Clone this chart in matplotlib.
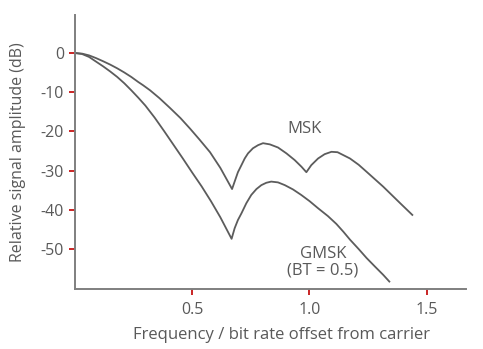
import matplotlib

matplotlib.use("Agg")
import matplotlib.pyplot as plt

plt.rcParams.update({"font.family": ["Open Sans", "DejaVu Sans"], "font.size": 10})

# values (frequency offset / bit rate, dB)
msk_f = [0.0, 0.03, 0.06, 0.09, 0.12, 0.15, 0.18, 0.21, 0.24, 0.27,
         0.29, 0.32, 0.36, 0.405, 0.45, 0.491, 0.53, 0.576, 0.62, 0.670,
         0.681, 0.695, 0.710, 0.724, 0.738, 0.759, 0.781, 0.802, 0.831,
         0.866, 0.902, 0.937, 0.966, 0.987, 1.008, 1.037, 1.065, 1.094,
         1.12, 1.173, 1.21, 1.244, 1.315, 1.387, 1.439]
msk_db = [0.0, -0.15, -0.6, -1.3, -2.1, -2.95, -3.9, -4.95, -6.1, -7.4,
          -8.2, -9.5, -11.5, -14.0, -16.6, -19.3, -22.0, -25.3, -29.3, -34.7,
          -32.8, -30.4, -28.6, -26.9, -25.6, -24.3, -23.5, -23.0, -23.3,
          -24.1, -25.6, -27.3, -29.0, -30.4, -28.6, -26.9, -25.8, -25.2,
          -25.3, -26.9, -28.5, -30.3, -34.1, -38.3, -41.3]

gmsk_f = [0.0, 0.03, 0.06, 0.09, 0.12, 0.15, 0.18, 0.21, 0.24, 0.27,
          0.30, 0.34, 0.38, 0.42, 0.46, 0.50, 0.54, 0.58, 0.62, 0.668,
          0.681, 0.695, 0.710, 0.731, 0.752, 0.774, 0.795, 0.816, 0.837,
          0.866, 0.895, 0.930, 0.965, 1.001, 1.037, 1.079, 1.115, 1.145,
          1.173, 1.21, 1.244, 1.28, 1.315, 1.341]
gmsk_db = [0.0, -0.25, -1.0, -2.2, -3.4, -4.7, -6.1, -7.7, -9.5, -11.4,
           -13.4, -16.5, -19.9, -23.4, -26.9, -30.5, -34.0, -37.8, -41.9, -47.4,
           -44.7, -42.6, -40.9, -38.3, -36.2, -34.7, -33.7, -33.1, -32.8,
           -33.0, -33.7, -34.8, -36.2, -37.8, -39.6, -41.6, -43.6, -45.6,
           -47.6, -50.0, -52.3, -54.5, -56.6, -58.3]

x_ticks = [0.5, 1.0, 1.5]
y_ticks = [0, -10, -20, -30, -40, -50]

text_col = "#595959"
line_col = "#5c5c5c"

fig = plt.figure(figsize=(4.83, 3.49), dpi=100)
ax = fig.add_axes([0.1553, 0.1719, 0.8095, 0.7851])

ax.plot(msk_f, msk_db, color=line_col, lw=1.3)
ax.plot(gmsk_f, gmsk_db, color=line_col, lw=1.3)

ax.set_xlim(0, 1.668)
ax.set_ylim(-60.2, 9.7)
ax.set_xticks(x_ticks)
ax.set_xticklabels([f"{v:.1f}" for v in x_ticks])
ax.set_yticks(y_ticks)
ax.set_yticklabels([str(v) for v in y_ticks])

for side in ("top", "right"):
    ax.spines[side].set_visible(False)
for side in ("left", "bottom"):
    ax.spines[side].set_color("#7f7f7f")
    ax.spines[side].set_linewidth(1.4)

ax.tick_params(axis="both", colors="#c00000", length=4, width=1.2,
               labelcolor=text_col, labelsize=11.5)
ax.tick_params(axis="x", pad=5)
ax.tick_params(axis="y", pad=4)

ax.set_ylabel("Relative signal amplitude (dB)", color=text_col, fontsize=11.5)
ax.yaxis.set_label_coords(-0.125, 0.5)
ax.set_xlabel("Frequency / bit rate offset from carrier", color=text_col,
              fontsize=12)
ax.xaxis.set_label_coords(0.527, -0.14)

ax.text(0.978, -19.3, "MSK", color=text_col, fontsize=12, ha="center",
        va="center")
ax.text(1.058, -51.3, "GMSK", color=text_col, fontsize=12, ha="center",
        va="center")
ax.text(1.055, -55.4, "(BT = 0.5)", color=text_col, fontsize=12,
        ha="center", va="center")

fig.savefig("out.png", dpi=100)
